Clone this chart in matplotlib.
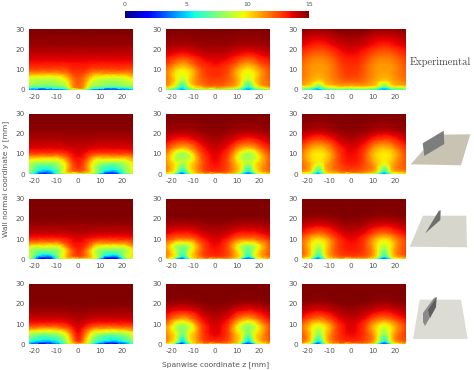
import numpy as np
import matplotlib
matplotlib.use("Agg")
import matplotlib.pyplot as plt
import matplotlib.tri as mtri
from matplotlib.patches import Polygon
from matplotlib.cm import ScalarMappable
from matplotlib.colors import Normalize

plt.rcParams["axes.unicode_minus"] = False

# sample points, |z| from the mid plane and y above the wall
z_half = [0, 3, 6, 9, 12, 15, 18, 21, 25]
y_levels = [0, 0.7, 2, 4, 6, 8, 10, 13, 17, 22, 30]

r1c1 = [[8, 7, 4, 3, 2.5, 2, 2.5, 3, 4],
        [11.5, 10.5, 7, 6.2, 6, 6, 6, 6.2, 7],
        [12, 11, 8.5, 8, 7.7, 7.5, 7.7, 8, 8.5],
        [12.2, 11.3, 9.3, 8.7, 8.4, 8.3, 8.4, 8.7, 9.3],
        [12.4, 11.7, 10.3, 9.5, 9.3, 9.3, 9.3, 9.5, 10.3],
        [12.7, 12.4, 11.6, 11.2, 11.2, 11.2, 11.2, 11.2, 11.6],
        [13, 13, 12.5, 12.5, 12.5, 12.5, 12.5, 12.5, 12.5],
        [13.4, 13.4, 13.3, 13.3, 13.3, 13.3, 13.3, 13.3, 13.3],
        [14, 14, 14, 14, 14, 14, 14, 14, 14],
        [14.6, 14.6, 14.6, 14.6, 14.6, 14.6, 14.6, 14.6, 14.6],
        [15, 15, 15, 15, 15, 15, 15, 15, 15]]
r1c2 = [[7, 7, 7, 6.5, 6, 4, 6, 6.5, 7],
        [10.5, 10.5, 10, 9.5, 8, 5.5, 8, 9.5, 10.5],
        [12, 12, 11.5, 11, 9.3, 6.5, 9.3, 11, 12],
        [12.5, 12.5, 12, 11.3, 10, 8, 10, 11.3, 12],
        [12.8, 12.6, 12.2, 11.3, 10, 9.2, 10, 11.3, 12.2],
        [13, 12.8, 12.3, 11.2, 10, 9.5, 10, 11.2, 12.3],
        [13, 12.9, 12.5, 11.5, 10.5, 10, 10.5, 11.5, 12.5],
        [13.5, 13.3, 13, 12.5, 11.7, 11.3, 11.7, 12.5, 13],
        [14, 14, 13.8, 13.5, 13.2, 13, 13.2, 13.5, 13.8],
        [14.6, 14.6, 14.6, 14.5, 14.4, 14.4, 14.4, 14.5, 14.6],
        [15, 15, 15, 15, 15, 15, 15, 15, 15]]
r1c3 = [[6, 6, 6, 6, 5.5, 4, 5.5, 6, 6],
        [9, 9, 9, 8.5, 8, 6, 8, 8.5, 9],
        [11, 11, 11, 10.7, 10, 8, 10, 10.7, 11],
        [12, 12, 11.7, 11.2, 10.7, 10, 10.7, 11.2, 11.7],
        [12.5, 12.4, 12, 11.5, 11, 10.8, 11, 11.5, 12],
        [12.7, 12.6, 12.1, 11.6, 11.2, 11, 11.2, 11.6, 12.1],
        [12.8, 12.7, 12.2, 11.6, 11.2, 11.2, 11.2, 11.6, 12.2],
        [13, 12.9, 12.4, 11.8, 11.4, 11.3, 11.4, 11.8, 12.4],
        [13.4, 13.3, 12.9, 12.4, 12, 11.9, 12, 12.4, 12.9],
        [14.1, 14, 13.8, 13.5, 13.2, 13.1, 13.2, 13.5, 13.8],
        [15, 15, 15, 14.8, 14.7, 14.7, 14.7, 14.8, 15]]
r2c1 = [[7, 7, 6.5, 5, 3, 2, 3, 5, 6.5],
        [11, 10.5, 9.5, 7.5, 4.5, 3.5, 4.5, 7.5, 9.5],
        [12.5, 12, 10, 7.5, 6, 5.5, 6, 7.5, 10],
        [13, 12, 9.8, 8, 7, 6.5, 7, 8, 9.8],
        [13.2, 12.4, 10.3, 9, 8.6, 8.5, 8.6, 9, 10.3],
        [13.4, 13, 11.5, 10.5, 10.5, 10.5, 10.5, 10.5, 11.5],
        [13.7, 13.4, 12.8, 12.5, 12.5, 12.5, 12.5, 12.5, 12.8],
        [14, 14, 13.8, 13.7, 13.7, 13.7, 13.7, 13.7, 13.8],
        [14.4, 14.4, 14.4, 14.3, 14.3, 14.3, 14.3, 14.3, 14.4],
        [14.8, 14.8, 14.8, 14.8, 14.8, 14.8, 14.8, 14.8, 14.8],
        [15, 15, 15, 15, 15, 15, 15, 15, 15]]
r2c2 = [[9, 9, 9, 8, 6, 2.5, 6, 8, 9],
        [12, 12, 11.5, 10.5, 8.5, 5, 8.5, 10.5, 11.5],
        [13, 12.8, 12.2, 11, 9.5, 6.3, 9.5, 11, 12.2],
        [13.3, 13, 12.3, 11, 9.7, 7.5, 9.7, 11, 12.3],
        [13.5, 13.1, 12.2, 10.7, 9.5, 8.7, 9.5, 10.7, 12.2],
        [13.6, 13.2, 12.3, 10.5, 8.8, 8.2, 8.8, 10.5, 12.3],
        [13.7, 13.4, 12.6, 11, 9.2, 8.3, 9.2, 11, 12.6],
        [14, 13.8, 13.2, 12.2, 11.2, 10.8, 11.2, 12.2, 13.2],
        [14.4, 14.3, 14, 13.6, 13.2, 13, 13.2, 13.6, 14],
        [14.8, 14.8, 14.7, 14.6, 14.5, 14.5, 14.5, 14.6, 14.7],
        [15, 15, 15, 15, 15, 15, 15, 15, 15]]
r2c3 = [[8, 8, 8, 8, 7, 3.5, 7, 8, 8],
        [11.5, 11.5, 11, 10.5, 9.5, 5.5, 9.5, 10.5, 11],
        [12.5, 12.4, 12, 11.5, 10.3, 7, 10.3, 11.5, 12],
        [13, 12.8, 12.3, 11.6, 10.5, 8.5, 10.5, 11.6, 12.3],
        [13.3, 13.1, 12.4, 11.4, 10.4, 9.8, 10.4, 11.4, 12.4],
        [13.4, 13.2, 12.4, 11.2, 10.2, 9.9, 10.2, 11.2, 12.4],
        [13.5, 13.3, 12.5, 11.2, 10.2, 9.9, 10.2, 11.2, 12.5],
        [13.7, 13.5, 12.9, 11.9, 11, 10.7, 11, 11.9, 12.9],
        [14.3, 14.1, 13.8, 13.2, 12.7, 12.5, 12.7, 13.2, 13.8],
        [14.8, 14.8, 14.7, 14.5, 14.4, 14.3, 14.4, 14.5, 14.7],
        [15, 15, 15, 15, 15, 15, 15, 15, 15]]
r3c1 = [[8, 8, 7.5, 5, 2, 1.5, 2, 5, 7.5],
        [11.5, 11, 10, 8, 3.5, 3, 3.5, 8, 10],
        [12.7, 12, 10.3, 8.3, 6, 5.3, 6, 8.3, 10.3],
        [13, 12, 10, 8, 7.5, 7.2, 7.5, 8, 10],
        [13.2, 12.7, 11, 9.3, 9, 9, 9, 9.3, 11],
        [13.4, 13.2, 12.3, 11.3, 11.3, 11.3, 11.3, 11.3, 12.3],
        [13.7, 13.5, 13.2, 13, 12.9, 12.9, 12.9, 13, 13.2],
        [14.2, 14.2, 14.1, 14, 14, 14, 14, 14, 14.1],
        [14.6, 14.6, 14.6, 14.6, 14.6, 14.6, 14.6, 14.6, 14.6],
        [15, 15, 15, 15, 15, 15, 15, 15, 15],
        [15, 15, 15, 15, 15, 15, 15, 15, 15]]
r3c2 = [[9, 9, 9, 8.5, 5, 2.5, 5, 8.5, 9],
        [12, 12, 11.5, 10.5, 8.5, 4.8, 8.5, 10.5, 11.5],
        [13, 12.8, 12.3, 11, 9.5, 6.2, 9.5, 11, 12.3],
        [13.3, 13, 12.3, 10.8, 9, 7, 9, 10.8, 12.3],
        [13.4, 13.1, 12.2, 10.4, 8.5, 7.5, 8.5, 10.4, 12.2],
        [13.6, 13.3, 12.5, 11, 9.8, 9.5, 9.8, 11, 12.5],
        [13.8, 13.6, 13.1, 12.3, 11.8, 11.7, 11.8, 12.3, 13.1],
        [14.2, 14.1, 13.9, 13.5, 13.2, 13.2, 13.2, 13.5, 13.9],
        [14.6, 14.6, 14.5, 14.4, 14.3, 14.3, 14.3, 14.4, 14.5],
        [15, 15, 15, 15, 15, 15, 15, 15, 15],
        [15, 15, 15, 15, 15, 15, 15, 15, 15]]
r3c3 = [[8, 8, 8, 8, 6, 2.5, 6, 8, 8],
        [11.5, 11.5, 11.3, 10.5, 9, 5, 9, 10.5, 11.3],
        [12.7, 12.6, 12.3, 11.5, 9.8, 6.5, 9.8, 11.5, 12.3],
        [13.1, 13, 12.6, 11.6, 9.9, 7.5, 9.9, 11.6, 12.6],
        [13.3, 13.1, 12.6, 11.5, 9.9, 8.5, 9.9, 11.5, 12.6],
        [13.4, 13.2, 12.6, 11.4, 10, 9.3, 10, 11.4, 12.6],
        [13.6, 13.4, 12.8, 11.8, 10.7, 10.2, 10.7, 11.8, 12.8],
        [14, 13.9, 13.5, 12.9, 12.3, 12, 12.3, 12.9, 13.5],
        [14.5, 14.5, 14.3, 14, 13.8, 13.7, 13.8, 14, 14.3],
        [15, 15, 14.9, 14.9, 14.8, 14.8, 14.8, 14.9, 14.9],
        [15, 15, 15, 15, 15, 15, 15, 15, 15]]
r4c1 = [[9, 8, 5, 2, 1.5, 1.5, 1.5, 2, 5],
        [12, 10.5, 7.5, 5, 4, 3.5, 4, 5, 7.5],
        [13, 11, 8.3, 6.5, 5.8, 5.5, 5.8, 6.5, 8.3],
        [13.3, 11.5, 9, 7.5, 7, 6.5, 7, 7.5, 9],
        [13.5, 12.2, 10.2, 9.3, 9, 8.8, 9, 9.3, 10.2],
        [13.8, 13, 12, 11.5, 11.3, 11.2, 11.3, 11.5, 12],
        [14, 13.7, 13.2, 13, 13, 13, 13, 13, 13.2],
        [14.4, 14.2, 14.1, 14, 14, 14, 14, 14, 14.1],
        [14.7, 14.7, 14.6, 14.6, 14.6, 14.6, 14.6, 14.6, 14.6],
        [15, 15, 15, 15, 15, 15, 15, 15, 15],
        [15, 15, 15, 15, 15, 15, 15, 15, 15]]
r4c2 = [[8, 8, 8, 7.5, 5, 1.5, 5, 7.5, 8],
        [12, 12, 11.5, 10.5, 8.5, 4.3, 8.5, 10.5, 11.5],
        [13, 12.9, 12.3, 11, 9.5, 5.5, 9.5, 11, 12.3],
        [13.5, 13.2, 12.5, 11, 9.7, 6.8, 9.7, 11, 12.5],
        [13.7, 13.4, 12.5, 10.7, 9.5, 7.7, 9.5, 10.7, 12.5],
        [13.8, 13.4, 12.5, 10.5, 8.8, 7.8, 8.8, 10.5, 12.5],
        [13.9, 13.6, 12.8, 11.2, 9.5, 8.7, 9.5, 11.2, 12.8],
        [14.2, 14, 13.5, 12.6, 11.7, 11.3, 11.7, 12.6, 13.5],
        [14.6, 14.5, 14.3, 13.9, 13.6, 13.5, 13.6, 13.9, 14.3],
        [15, 15, 14.9, 14.9, 14.8, 14.8, 14.8, 14.9, 14.9],
        [15, 15, 15, 15, 15, 15, 15, 15, 15]]
r4c3 = [[8, 8, 8, 8, 6, 1.5, 6, 8, 8],
        [12, 12, 11.7, 11, 9, 4.5, 9, 11, 11.7],
        [13, 12.9, 12.5, 11.7, 9.8, 6, 9.8, 11.7, 12.5],
        [13.4, 13.2, 12.7, 11.8, 10, 7.2, 10, 11.8, 12.7],
        [13.6, 13.4, 12.7, 11.5, 10, 8.3, 10, 11.5, 12.7],
        [13.7, 13.4, 12.7, 11.3, 9.9, 9, 9.9, 11.3, 12.7],
        [13.8, 13.5, 12.9, 11.7, 10.6, 10, 10.6, 11.7, 12.9],
        [14.1, 14, 13.6, 12.9, 12.3, 12, 12.3, 12.9, 13.6],
        [14.6, 14.5, 14.3, 14.1, 13.8, 13.7, 13.8, 14.1, 14.3],
        [15, 15, 15, 14.9, 14.8, 14.8, 14.8, 14.9, 15],
        [15, 15, 15, 15, 15, 15, 15, 15, 15]]

panels = [[r1c1, r1c2, r1c3], [r2c1, r2c2, r2c3], [r3c1, r3c2, r3c3], [r4c1, r4c2, r4c3]]
tick_vals = [-20, -10, 0, 10, 20]
y_ticks = [0, 10, 20, 30]
bar_ticks = [0, 5, 10, 15]

W, H = 474, 370
col_x = [29, 166, 302]
row_y = [29, 113.5, 198.7, 283.7]
pw, ph = 103.5, 60.5


def px_axes(x0, y0, w, h):
    return fig.add_axes([x0 / W, 1 - (y0 + h) / H, w / W, h / H])


fig = plt.figure(figsize=(W / 100, H / 100), dpi=100)
grey = "#555555"
z = np.concatenate([-np.array(z_half[:0:-1]), z_half])

# smooth on the index grid, where the samples are evenly spaced, then map back
zi = np.arange(len(z))
yi = np.arange(len(y_levels))
ZI, YI = np.meshgrid(zi, yi)
index_tri = mtri.Triangulation(ZI.ravel().astype(float), YI.ravel().astype(float))
refiner = mtri.UniformTriRefiner(index_tri)

for r, row in enumerate(panels):
    for c, vals in enumerate(row):
        ax = px_axes(col_x[c], row_y[r], pw, ph)
        v = np.array(vals, dtype=float)
        v = np.hstack([v[:, :0:-1], v])
        interp = mtri.CubicTriInterpolator(index_tri, v.ravel(), kind="geom")
        fine_tri, fine_v = refiner.refine_field(v.ravel(), triinterpolator=interp, subdiv=3)
        real_tri = mtri.Triangulation(np.interp(fine_tri.x, zi, z), np.interp(fine_tri.y, yi, y_levels), fine_tri.triangles)
        ax.tripcolor(real_tri, np.clip(fine_v, 0, 15), cmap="jet", vmin=0, vmax=15, shading="gouraud")
        ax.set_xlim(-22.5, 24.8)
        ax.set_ylim(0, 30)
        ax.set_xticks(tick_vals)
        ax.set_yticks(y_ticks)
        ax.tick_params(length=0, labelsize=5.2, colors=grey, pad=3)
        for s in ax.spines.values():
            s.set_visible(False)

cax = px_axes(125, 11, 184, 7)
cb = fig.colorbar(ScalarMappable(Normalize(0, 15), cmap="jet"), cax=cax, orientation="horizontal")
cb.set_ticks(bar_ticks)
cb.ax.xaxis.set_ticks_position("top")
cb.ax.tick_params(length=0, labelsize=4.5, colors=grey, pad=3)
cb.outline.set_visible(False)

# overlay in pixel coordinates for the labels and the little fin sketches
ov = fig.add_axes([0, 0, 1, 1], facecolor="none")
ov.set_xlim(0, W)
ov.set_ylim(H, 0)
ov.axis("off")
ov.text(216, 365, "Spanwise coordinate z [mm]", fontsize=5.4, color=grey, ha="center", va="center")
ov.text(5.5, 179, "Wall normal coordinate y [mm]", fontsize=5.4, color=grey, ha="center", va="center", rotation=90)
ov.text(410, 62, "Experimental", fontsize=7.5, family="cmr10", color="#444444", ha="left", va="center")

ov.add_patch(Polygon([(410.7, 164.3), (437, 134.7), (470.3, 134.3), (461, 165.3)], fc="#c9c3b4", ec="none"))
ov.add_patch(Polygon([(422.7, 143.3), (443.7, 130.7), (444.3, 144), (424.3, 156)], fc="#7d7d7d", ec="none"))
ov.add_patch(Polygon([(409.7, 246.7), (423, 215.7), (466.3, 215.7), (467, 247.3)], fc="#d6d6cc", ec="none"))
ov.add_patch(Polygon([(425.3, 233.3), (438.7, 211), (440.7, 210.3), (440.3, 220)], fc="#6e6e6e", ec="none"))
ov.add_patch(Polygon([(413, 339), (419.7, 299.7), (461, 299.7), (467.7, 339)], fc="#dcdcd4", ec="none"))
ov.add_patch(Polygon([(423, 313), (434, 298), (437, 297), (436, 307), (425, 326), (423, 322)], fc="#8a8a8a", ec="none"))
ov.add_patch(Polygon([(428, 310), (436, 298), (436, 307), (430, 318)], fc="#5e5e5e", ec="none"))

fig.savefig("out.png", dpi=100)
